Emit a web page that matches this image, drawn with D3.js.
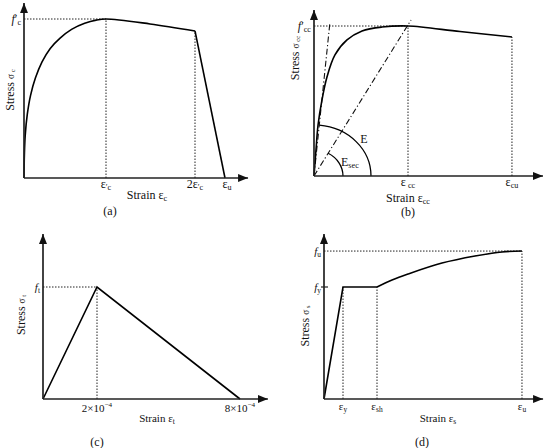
<!DOCTYPE html>
<html><head><meta charset="utf-8">
<script src="https://cdn.jsdelivr.net/npm/d3@7"></script>
<style>body{margin:0;background:#fff}svg{display:block}</style>
</head><body>
<svg id="c" width="550" height="448"></svg>
<script>
// ---------- Panel (a): concrete in compression (normalised by ε'c and f'c) ----------
const aStrain = [0, 0.005, 0.015, 0.04, 0.08, 0.14, 0.22, 0.32, 0.44, 0.58, 0.74, 0.88, 1.0, 1.494, 2.0];
const aStress = [0, 0.15, 0.27, 0.40, 0.52, 0.63, 0.73, 0.815, 0.88, 0.935, 0.973, 0.993, 1.0, 0.969, 0.925];
const aSoftStrain = [2.0, 2.337];
const aSoftStress = [0.925, 0];
const aTicks = [1, 2, 2.337];
const aAxisMax = [2.596, 1.1];

// ---------- Panel (b): confined concrete ----------
const bStrain = [0, 0.021, 0.043, 0.085, 0.138, 0.223, 0.351, 0.511, 0.723, 1.0, 1.553, 2.106];
const bStress = [0, 0.173, 0.34, 0.507, 0.66, 0.807, 0.907, 0.967, 0.993, 1.0, 0.963, 0.927];
const bTangentEnd = [0.17, 1.027];
const bSecantEnd = [1.032, 1.04];
const bTicks = [1, 2.106];
const bAxisMax = [2.436, 1.107];

// ---------- Panel (c): concrete in tension ----------
const cStrain = [0, 2e-4, 8e-4];
const cStress = [0, 1, 0];
const cTicks = [2e-4, 8e-4];
const cAxisMax = [9.17e-4, 1.473];

// ---------- Panel (d): steel (normalised by εy and fy) ----------
const dLinStrain = [0, 1, 2.79];
const dLinStress = [0, 1, 1];
const dHardStrain = [2.79, 3.58, 4.42, 6.21, 7.95, 9.37, 10.42];
const dHardStress = [1, 1.0625, 1.116, 1.214, 1.277, 1.313, 1.321];
const dTicks = [1, 2.79, 10.42];
const dAxisMax = [11.53, 1.473];

const FONT = "Liberation Serif, DejaVu Serif, serif";
const svg = d3.select('#c');
svg.append('rect').attr('width',550).attr('height',448).attr('fill','#fff');

const defs = svg.append('defs');
defs.append('marker').attr('id','arr').attr('viewBox','0 0 10 8')
  .attr('refX',10).attr('refY',4).attr('markerWidth',10).attr('markerHeight',8)
  .attr('markerUnits','userSpaceOnUse').attr('orient','auto')
  .append('path').attr('d','M0,0L10,4L0,8Z').attr('fill','#111');

function rich(g, x, y, parts, opt={}) {
  const size = opt.size || 12;
  const t = g.append('text').attr('x',x).attr('y',y)
    .attr('text-anchor', opt.anchor || 'middle')
    .style('font-family', FONT).attr('font-size', size).attr('fill','#111');
  if (opt.rotate) t.attr('transform', `rotate(-90,${x},${y})`);
  let cur = 0;
  parts.forEach(([s,k]) => {
    const ts = t.append('tspan').text(s);
    let off = 0, fs = size;
    if (k === 'sub') { fs = size*0.68; off = size*0.18; }
    else if (k === 'sup') { fs = size*0.65; off = -size*0.42; }
    else if (k === 'i') { ts.attr('font-style','italic'); }
    else if (k === 'sm') { fs = size*0.78; }
    else if (k === 'smsub') { fs = size*0.55; off = size*0.08; }
    ts.attr('font-size', fs);
    if (off !== cur) { ts.attr('dy', off - cur); cur = off; }
  });
  return t;
}

function axes(g, x, y, axisMax) {
  g.append('line').attr('x1',x(0)).attr('y1',y(0)).attr('x2',x(axisMax[0])).attr('y2',y(0))
    .attr('stroke','#222').attr('stroke-width',1.7).attr('marker-end','url(#arr)');
  g.append('line').attr('x1',x(0)).attr('y1',y(0)).attr('x2',x(0)).attr('y2',y(axisMax[1]))
    .attr('stroke','#222').attr('stroke-width',1.7).attr('marker-end','url(#arr)');
}
function dotted(g, x1, y1, x2, y2) {
  g.append('line').attr('x1',x1).attr('y1',y1).attr('x2',x2).attr('y2',y2)
    .attr('stroke','#222').attr('stroke-width',1).attr('stroke-dasharray','1.5,1.5');
}
function curve(g, xs, ys, x, y, c) {
  const pts = xs.map((v,i)=>[v, ys[i]]);
  g.append('path').attr('d', d3.line().x(d=>x(d[0])).y(d=>y(d[1])).curve(c||d3.curveLinear)(pts))
    .attr('fill','none').attr('stroke','#000').attr('stroke-width',1.6);
}
const smooth = d3.curveCatmullRom.alpha(0.5);

// ===== Panel (a) =====
{
  const g = svg.append('g');
  const x = d3.scaleLinear().domain([0,1,2]).range([24,106,195]);
  const y = d3.scaleLinear().domain([0,1]).range([178,19]);
  dotted(g, x(0), y(1), x(1), y(1));
  dotted(g, x(1), y(0), x(1), y(1));
  dotted(g, x(2), y(0), x(2), y(aSoftStress[0]));
  curve(g, aStrain, aStress, x, y, smooth);
  curve(g, aSoftStrain, aSoftStress, x, y);
  axes(g, x, y, aAxisMax);
  rich(g, 21, 23, [['f','i'],['′',''],['c','sub']], {anchor:'end'});
  rich(g, x(aTicks[0]), 188, [['ε',''],['′c','sub']]);
  rich(g, x(aTicks[1]), 188, [['2ε',''],['′c','sub']]);
  rich(g, x(aTicks[2])+2, 188, [['ε',''],['u','sub']]);
  rich(g, 147, 199, [['Strain ε',''],['c','sub']]);
  rich(g, 14, 90, [['Stress ',''],['σ','sm'],[' c','smsub']], {rotate:true});
  rich(g, 110, 215, [['(a)','']]);
}

// ===== Panel (b) =====
{
  const g = svg.append('g');
  const x = d3.scaleLinear().domain([0,1]).range([314,408]);
  const y = d3.scaleLinear().domain([0,1]).range([176,26]);
  dotted(g, x(0), y(1), x(1), y(1));
  dotted(g, x(1), y(0), x(1), y(1));
  dotted(g, x(bTicks[1]), y(0), x(bTicks[1]), y(bStress[bStress.length-1]));
  [bTangentEnd, bSecantEnd].forEach(e => {
    g.append('line').attr('x1',x(0)).attr('y1',y(0)).attr('x2',x(e[0])).attr('y2',y(e[1]))
      .attr('stroke','#111').attr('stroke-width',1.1).attr('stroke-dasharray','6,2.5,1.2,2.5');
  });
  curve(g, bStrain, bStress, x, y, smooth);
  function arcTo(rxPx, ryPx, dir) {
    const ox = x(0), oy = y(0);
    const dx = x(dir[0]) - ox, dy = oy - y(dir[1]);
    const t = Math.atan((dy/dx) * (rxPx/ryPx));
    const sx = ox + rxPx*Math.cos(t), sy = oy - ryPx*Math.sin(t);
    g.append('path').attr('d', `M${sx},${sy}A${rxPx},${ryPx} 0 0 1 ${ox+rxPx},${oy}`)
      .attr('fill','none').attr('stroke','#000').attr('stroke-width',1.3);
  }
  arcTo(57, 51, bTangentEnd);
  arcTo(29, 26, bSecantEnd);
  rich(g, 364, 143, [['E','']]);
  rich(g, 341, 166, [['E',''],['sec','sub']], {anchor:'start'});
  axes(g, x, y, bAxisMax);
  rich(g, 311, 30, [['f','i'],['′',''],['cc','sub']], {anchor:'end'});
  rich(g, x(bTicks[0]), 186, [['ε',''],[' cc','sub']]);
  rich(g, x(bTicks[1]), 186, [['ε',''],['cu','sub']]);
  rich(g, 408, 202, [['Strain ε',''],['cc','sub']]);
  rich(g, 299, 58, [['Stress ',''],['σ','sm'],[' cc','smsub']], {rotate:true});
  rich(g, 408, 216, [['(b)','']]);
}

// ===== Panel (c) =====
{
  const g = svg.append('g');
  const x = d3.scaleLinear().domain([0,2e-4,8e-4]).range([43,97,240]);
  const y = d3.scaleLinear().domain([0,1]).range([399,287]);
  dotted(g, x(0), y(1), x(cTicks[0]), y(1));
  dotted(g, x(cTicks[0]), y(0), x(cTicks[0]), y(1));
  curve(g, cStrain, cStress, x, y);
  axes(g, x, y, cAxisMax);
  rich(g, 40, 291, [['f','i'],['t','sub']], {anchor:'end', size:11});
  rich(g, x(cTicks[0]), 412, [['2×10',''],['−4','sup']], {size:11});
  rich(g, x(cTicks[1]), 412, [['8×10',''],['−4','sup']], {size:11});
  rich(g, 157, 422, [['Strain ε',''],['t','sub']], {size:11});
  rich(g, 25, 315, [['Stress ',''],['σ','sm'],[' t','smsub']], {rotate:true});
  rich(g, 97, 446, [['(c)','']]);
}

// ===== Panel (d) =====
{
  const g = svg.append('g');
  const x = d3.scaleLinear().domain([0,1]).range([324,343]);
  const y = d3.scaleLinear().domain([0,1]).range([399,287]);
  const fu = dHardStress[dHardStress.length-1];
  dotted(g, x(0), y(fu), x(dTicks[2]), y(fu));
  dotted(g, x(dTicks[2]), y(0), x(dTicks[2]), y(fu));
  dotted(g, x(dTicks[0]), y(0), x(dTicks[0]), y(1));
  dotted(g, x(dTicks[1]), y(0), x(dTicks[1]), y(1));
  g.append('line').attr('x1',x(0)-3).attr('x2',x(0)+4).attr('y1',y(1)).attr('y2',y(1))
    .attr('stroke','#222').attr('stroke-width',1.2);
  curve(g, dLinStrain, dLinStress, x, y);
  curve(g, dHardStrain, dHardStress, x, y, smooth);
  axes(g, x, y, dAxisMax);
  rich(g, 321, 255, [['f','i'],['u','sub']], {anchor:'end', size:11});
  rich(g, 321, 291, [['f','i'],['y','sub']], {anchor:'end', size:11});
  rich(g, x(dTicks[0]), 410, [['ε',''],['y','sub']], {size:11});
  rich(g, x(dTicks[1]), 410, [['ε',''],['sh','sub']], {size:11});
  rich(g, x(dTicks[2]), 410, [['ε',''],['u','sub']], {size:11});
  rich(g, 438, 422, [['Strain ε',''],['s','sub']], {size:11});
  rich(g, 309, 326, [['Stress ',''],['σ','sm'],[' s','smsub']], {rotate:true});
  rich(g, 422, 446, [['(d)','']]);
}
</script>
</body></html>
